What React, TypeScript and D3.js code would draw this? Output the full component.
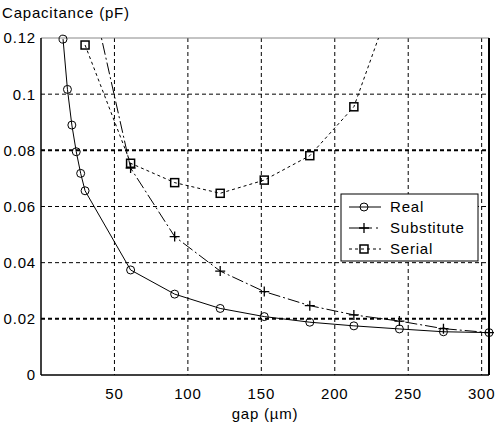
import React from 'react';
import * as d3 from 'd3';

// gap (µm) samples and capacitance (pF)
const realGap = [15, 18, 21, 24, 27, 30, 61, 91, 122, 152, 183, 213, 244, 274, 305];
const realCap = [0.1196, 0.1017, 0.089, 0.0795, 0.0718, 0.0656, 0.0374, 0.0288, 0.0237, 0.0208, 0.0188, 0.0175, 0.0164, 0.0154, 0.0151];

const subGap = [30, 61, 91, 122, 152, 183, 213, 244, 274, 305];
const subCap = [0.146, 0.0737, 0.0493, 0.037, 0.0297, 0.0247, 0.0214, 0.0192, 0.0165, 0.0151];

const serialGap = [30, 61, 91, 122, 152, 183, 213, 244];
const serialCap = [0.1175, 0.0754, 0.0685, 0.0647, 0.0694, 0.0781, 0.0955, 0.1408];

const xTicks = [50, 100, 150, 200, 250, 300];
const yTicks = [0, 0.02, 0.04, 0.06, 0.08, 0.1, 0.12];
const yTickLabels = ['0', '0.02', '0.04', '0.06', '0.08', '0.1', '0.12'];
const legendNames = ['Real', 'Substitute', 'Serial'];

const W = 500;
const H = 432;
const FONT = '"Liberation Sans", Arial, sans-serif';

const x = d3.scaleLinear().domain([0, 305]).range([41, 489]);
const y = d3.scaleLinear().domain([0, 0.12]).range([375, 38]);

type Pt = [number, number];
const zip = (a: number[], b: number[]): Pt[] => a.map((v, i) => [v, b[i]]);

const line = d3.line<Pt>().x(d => x(d[0])).y(d => y(d[1]));

const Circle = ({ cx, cy }: { cx: number; cy: number }) => (
    <circle cx={cx} cy={cy} r={4} fill="none" stroke="#000" strokeWidth={1} />
);
const Plus = ({ cx, cy }: { cx: number; cy: number }) => (
    <path d={`M${cx - 5},${cy}H${cx + 5}M${cx},${cy - 5}V${cy + 5}`} stroke="#000" strokeWidth={1.3} />
);
const Square = ({ cx, cy }: { cx: number; cy: number }) => (
    <rect x={cx - 4} y={cy - 4} width={8} height={8} fill="none" stroke="#000" strokeWidth={1.5} />
);

const inside = (d: Pt) => d[1] <= 0.1205 && d[1] >= 0;

export default function App() {
    const [x0, x1] = x.range();
    const [yb, yt] = y.range();
    const series = [
        { pts: zip(realGap, realCap), dash: undefined, M: Circle, legendDash: undefined },
        { pts: zip(subGap, subCap), dash: '12,3,2,3', M: Plus, legendDash: '23,4,2,4' },
        { pts: zip(serialGap, serialCap), dash: '3,3', M: Square, legendDash: '3,3' },
    ];
    const lgX = 341, lgY = 194, lgW = 137, lgH = 67;

    return (
        <svg width={W} height={H} style={{ position: 'absolute', left: 0, top: 0, background: '#fff' }}
            fontFamily={FONT} letterSpacing={0.8}>
            <rect width={W} height={H} fill="#fff" />
            <defs>
                <clipPath id="plot">
                    <rect x={x0} y={yt} width={x1 - x0} height={yb - yt} />
                </clipPath>
            </defs>

            {/* grid */}
            {xTicks.map(t => (
                <line key={'gx' + t} x1={x(t)} x2={x(t)} y1={yt} y2={yb} stroke="#000" strokeWidth={1}
                    strokeDasharray="4,3" />
            ))}
            {yTicks.slice(1, -1).map(t => (
                <line key={'gy' + t} x1={x0} x2={x1} y1={y(t)} y2={y(t)} stroke="#000"
                    strokeWidth={t === 0.02 || t === 0.08 ? 2 : 1} strokeDasharray="4,3" />
            ))}

            {/* axes frame */}
            <line x1={x0} x2={x1} y1={yt} y2={yt} stroke="#888" strokeWidth={1} />
            <line x1={x0} x2={x0} y1={yt} y2={yb} stroke="#000" strokeWidth={1.5} />
            <line x1={x0} x2={x1} y1={yb} y2={yb} stroke="#000" strokeWidth={1.5} />
            <line x1={x1} x2={x1} y1={yt} y2={yb} stroke="#000" strokeWidth={2} />

            {/* series */}
            <g clipPath="url(#plot)">
                {series.map((s, i) => (
                    <path key={i} d={line(s.pts) || ''} fill="none" stroke="#000" strokeWidth={1}
                        strokeDasharray={s.dash} />
                ))}
            </g>
            {series.map((s, i) =>
                s.pts.filter(inside).map((d, j) => <s.M key={i + '-' + j} cx={x(d[0])} cy={y(d[1])} />)
            )}

            {/* tick labels */}
            {yTicks.map((t, i) => (
                <text key={'yl' + t} x={36} y={y(t)} dy="0.36em" textAnchor="end" fontSize={15}>
                    {yTickLabels[i]}
                </text>
            ))}
            {xTicks.map(t => (
                <text key={'xl' + t} x={x(t)} y={399} textAnchor="middle" fontSize={15}>{t}</text>
            ))}
            <text x={265} y={419} textAnchor="middle" fontSize={15}>gap (µm)</text>
            <text x={2} y={18} fontSize={15}>Capacitance (pF)</text>

            {/* legend */}
            <rect x={lgX} y={lgY} width={lgW} height={lgH} fill="#fff" stroke="#000" strokeWidth={1} />
            {series.map((s, i) => {
                const ly = lgY + 13 + i * 21;
                return (
                    <g key={'lg' + i}>
                        <line x1={349} x2={381} y1={ly} y2={ly} stroke="#000" strokeWidth={1}
                            strokeDasharray={s.legendDash} />
                        <s.M cx={364} cy={ly} />
                        <text x={390} y={ly} dy="0.36em" fontSize={15}>{legendNames[i]}</text>
                    </g>
                );
            })}
        </svg>
    );
}
